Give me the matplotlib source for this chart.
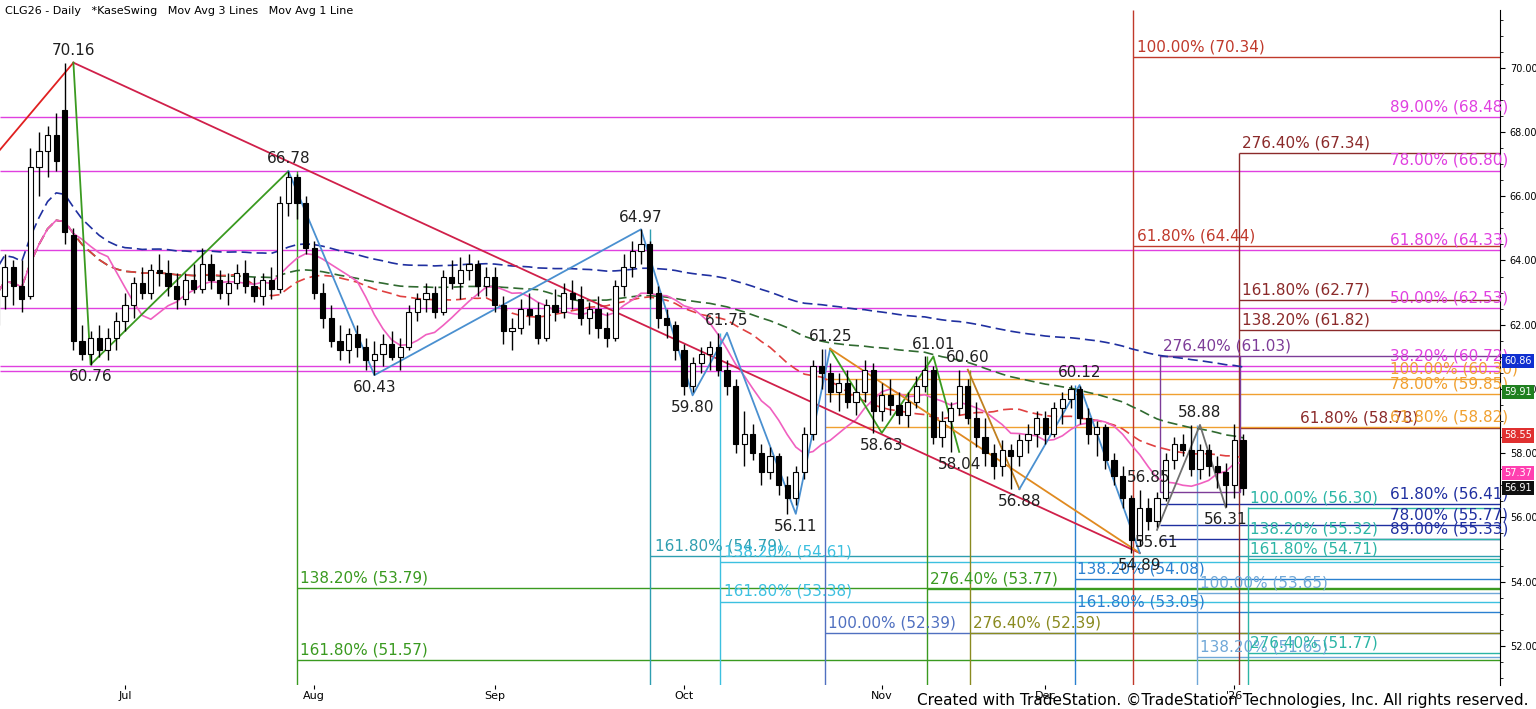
import matplotlib
matplotlib.use("Agg")
import matplotlib.pyplot as plt
import pandas as pd
import numpy as np

# ---- data (O,H,L,C per session, Jun 9 2025 .. Jan 6 2026) ----
opens  = []; highs = []; lows = []; closes = []
ohlc = [
 (62.0,63.3,61.5,62.9),(62.9,64.2,62.5,63.8),(63.8,64.0,62.6,63.2),(63.2,64.0,62.4,62.8),(62.9,67.5,62.8,66.9),
 (66.9,68.0,66.0,67.4),(67.4,68.2,66.6,67.9),(67.9,68.6,66.8,67.1),(68.7,70.16,64.5,64.9),(64.8,65.0,61.2,61.5),
 (61.5,62.0,60.9,61.1),(61.1,61.8,60.76,61.6),(61.6,62.0,61.0,61.2),(61.2,61.9,60.9,61.6),(61.6,62.4,61.2,62.1),
 # Jul
 (62.1,63.0,61.8,62.6),(62.6,63.5,62.2,63.3),(63.3,63.8,62.8,63.0),(63.0,63.9,62.8,63.7),(63.7,64.2,63.2,63.6),
 (63.6,64.0,62.9,63.2),(63.2,63.6,62.5,62.8),(62.8,63.6,62.6,63.4),(63.4,63.9,63.0,63.1),(63.1,64.4,63.0,63.9),
 (63.9,64.2,63.1,63.4),(63.4,63.7,62.8,63.0),(63.0,63.6,62.6,63.3),(63.3,63.9,63.1,63.6),(63.6,64.0,63.0,63.2),
 (63.2,63.5,62.7,62.9),(62.9,63.6,62.6,63.4),(63.4,63.8,62.8,63.1),(63.1,66.0,63.0,65.8),(65.8,66.78,65.4,66.6),
 (66.6,66.7,65.3,65.8),(65.8,66.0,64.2,64.4),
 # Aug
 (64.4,64.6,62.8,63.0),(63.0,63.3,61.9,62.2),(62.2,62.6,61.3,61.5),(61.5,62.0,60.9,61.2),(61.2,61.9,60.8,61.7),
 (61.7,62.0,61.0,61.3),(61.3,61.6,60.6,60.9),(60.9,61.5,60.43,61.1),(61.1,61.7,60.7,61.4),(61.4,61.8,60.9,61.0),
 (61.0,61.6,60.6,61.3),(61.3,62.6,61.2,62.4),(62.4,63.0,62.1,62.8),(62.8,63.3,62.4,63.0),(63.0,63.2,62.2,62.4),
 (62.4,63.7,62.3,63.5),(63.5,64.0,63.1,63.3),(63.3,64.1,62.8,63.7),(63.7,64.2,63.4,63.9),(63.9,64.0,62.9,63.2),
 (63.2,63.8,62.9,63.5),
 # Sep
 (63.5,63.8,62.4,62.6),(62.6,62.9,61.4,61.8),(61.8,62.2,61.2,61.9),(61.9,62.8,61.7,62.5),(62.5,63.0,62.0,62.3),
 (62.3,62.7,61.4,61.6),(61.6,62.8,61.5,62.6),(62.6,63.1,62.1,62.4),(62.4,63.3,62.2,63.0),(63.0,63.4,62.5,62.8),
 (62.8,63.2,62.0,62.2),(62.2,62.7,61.7,62.5),(62.5,62.9,61.6,61.9),(61.9,62.4,61.3,61.6),(61.6,63.4,61.5,63.2),
 (63.2,64.2,62.9,63.8),(63.8,64.6,63.5,64.3),(64.3,64.97,63.9,64.5),(64.5,64.6,62.8,63.0),(63.0,63.2,61.9,62.2),
 (62.2,62.5,61.6,62.0),
 # Oct
 (62.0,62.1,60.9,61.2),(61.2,61.4,59.8,60.1),(60.1,61.0,59.9,60.8),(60.8,61.3,60.5,61.1),(61.1,61.5,60.6,61.3),
 (61.3,61.75,60.4,60.6),(60.6,60.9,59.8,60.1),(60.1,60.3,58.0,58.3),(58.3,59.3,57.6,58.6),(58.6,58.9,57.8,58.0),
 (58.0,58.3,57.0,57.4),(57.4,58.2,57.2,57.9),(57.9,58.0,56.7,57.0),(57.0,57.3,56.11,56.6),(56.6,57.6,56.4,57.4),
 (57.4,58.8,57.2,58.6),(58.6,60.9,58.4,60.7),(60.7,61.25,60.0,60.5),(60.5,60.8,59.6,59.9),(59.9,60.5,59.3,60.2),
 (60.2,60.6,59.4,59.6),(59.6,60.3,59.2,59.9),(59.9,60.9,59.6,60.6),
 # Nov
 (60.6,60.8,58.63,59.3),(59.3,60.2,59.0,59.8),(59.8,60.3,59.2,59.5),(59.5,59.9,58.9,59.2),(59.2,59.9,58.8,59.6),
 (59.6,60.4,59.4,60.1),(60.1,61.01,59.9,60.6),(60.6,60.7,58.3,58.5),(58.5,59.3,58.2,59.0),(59.0,59.6,58.04,59.4),
 (59.4,60.60,59.2,60.1),(60.1,60.3,58.9,59.1),(59.1,59.6,58.2,58.5),(58.5,59.1,57.6,58.0),(58.0,58.3,57.2,57.6),
 (57.6,58.4,57.3,58.1),(58.1,58.3,56.88,57.9),(57.9,58.6,57.6,58.4),(58.4,58.9,58.0,58.6),
 # Dec
 (58.6,59.3,58.2,59.1),(59.1,59.3,58.3,58.6),(58.6,59.6,58.5,59.4),(59.4,59.9,58.9,59.7),(59.7,60.12,59.4,60.0),
 (60.0,60.1,58.9,59.1),(59.1,59.4,58.3,58.6),(58.6,59.0,57.9,58.8),(58.8,58.9,57.5,57.8),(57.8,58.0,57.0,57.3),
 (57.3,57.6,56.3,56.6),(56.6,56.7,54.89,55.3),(55.3,56.85,55.1,56.3),(56.3,56.6,55.61,55.9),(55.9,56.8,55.7,56.6),
 (56.6,58.0,56.5,57.8),(57.8,58.5,57.5,58.3),(58.3,58.6,57.9,58.1),(58.1,58.88,57.3,57.5),(57.5,58.3,57.2,58.1),
 (58.1,58.3,57.3,57.6),(57.6,57.9,56.9,57.4),
 # Jan
 (57.4,57.7,56.31,57.0),(57.0,58.9,56.6,58.4),(58.4,58.6,56.7,56.91),
]
for o,h,l,c in ohlc:
    opens.append(o); highs.append(h); lows.append(l); closes.append(c)

month_pos = [15, 37, 58, 80, 103, 122, 144]
month_labels = ['Jul', 'Aug', 'Sep', 'Oct', 'Nov', 'Dec', "'26"]
yticks = [52, 54, 56, 58, 60, 62, 64, 66, 68, 70]

pivots = [(9,70.16,'70.16',True),(11,60.76,'60.76',False),(34,66.78,'66.78',True),(44,60.43,'60.43',False),
          (75,64.97,'64.97',True),(81,59.80,'59.80',False),(85,61.75,'61.75',True),(93,56.11,'56.11',False),
          (97,61.25,'61.25',True),(103,58.63,'58.63',False),(109,61.01,'61.01',True),(112,58.04,'58.04',False),
          (113,60.60,'60.60',True),(119,56.88,'56.88',False),(126,60.12,'60.12',True),(133,54.89,'54.89',False),
          (134,56.85,'56.85',True),(135,55.61,'55.61',False),(140,58.88,'58.88',True),(143,56.31,'56.31',False)]

fibs = [
 (70.34,1133,'#c0392b','100.00% (70.34)',1137),(64.44,1133,'#c0392b','61.80% (64.44)',1137),
 (68.48,0,'#e040e0','89.00% (68.48)',1390),(66.80,0,'#e040e0','78.00% (66.80)',1390),
 (64.33,0,'#e040e0','61.80% (64.33)',1390),(62.53,0,'#e040e0','50.00% (62.53)',1390),
 (60.72,0,'#e040e0','38.20% (60.72)',1390),(60.55,0,'#e040e0','',1390),
 (67.34,1239,'#8b2a2a','276.40% (67.34)',1242),(62.77,1239,'#8b2a2a','161.80% (62.77)',1242),
 (61.82,1239,'#8b2a2a','138.20% (61.82)',1242),(58.78,1239,'#8b2a2a','61.80% (58.78)',1300),
 (61.03,1160,'#7d3c98','276.40% (61.03)',1163),
 (60.30,825,'#f0a030','100.00% (60.30)',1390),(59.85,825,'#f0a030','78.00% (59.85)',1390),
 (58.82,825,'#f0a030','61.80% (58.82)',1390),
 (56.41,1160,'#1f2fa0','61.80% (56.41)',1390),(55.77,1160,'#1f2fa0','78.00% (55.77)',1390),
 (55.33,1160,'#1f2fa0','89.00% (55.33)',1390),
 (56.30,1248,'#2bb5a5','100.00% (56.30)',1250),(55.32,1248,'#2bb5a5','138.20% (55.32)',1250),
 (54.71,1248,'#2bb5a5','161.80% (54.71)',1250),
 (54.79,650,'#2e9eb0','161.80% (54.79)',655),(54.61,720,'#3cc0e0','138.20% (54.61)',724),
 (53.38,720,'#3cc0e0','161.80% (53.38)',724),
 (53.79,297,'#3a9a20','138.20% (53.79)',300),(51.57,297,'#3a9a20','161.80% (51.57)',300),
 (53.77,927,'#3a9a20','276.40% (53.77)',930),
 (52.39,825,'#5070c0','100.00% (52.39)',828),(52.39,970,'#8a8a20','276.40% (52.39)',973),
 (54.08,1075,'#2a80d0','138.20% (54.08)',1077),(53.05,1075,'#2a80d0','161.80% (53.05)',1077),
 (53.65,1197,'#70a8d8','100.00% (53.65)',1200),(51.65,1197,'#70a8d8','138.20% (51.65)',1200),
 (51.77,1248,'#2bb5a5','276.40% (51.77)',1250),
]
verts = [(297,66.78,'#3a9a20'),(650,64.97,'#2e9eb0'),(720,61.75,'#3cc0e0'),(825,61.25,'#5070c0'),
         (927,61.01,'#3a9a20'),(970,60.60,'#8a8a20'),(1075,60.12,'#2a80d0'),(1133,71.8,'#c0392b'),
         (1197,58.88,'#70a8d8'),(1248,56.31,'#2bb5a5'),(1239,67.34,'#8b2a2a')]

swings = [
 ([0,9],[67.3,70.16],'#e02020'),
 ([9,133],[70.16,54.89],'#d0204a'),
 ([9,11,34],[70.16,60.76,66.78],'#3a9a20'),
 ([34,44,75,81,85,93,97],[66.78,60.43,64.97,59.80,61.75,56.11,61.25],'#4a90d0'),
 ([97,103,109,112],[61.25,58.63,61.01,58.04],'#3a9a20'),
 ([113,119],[60.60,56.88],'#c08020'),
 ([97,133],[61.25,54.89],'#e08a20'),
 ([119,126,133],[56.88,60.12,54.89],'#4a90d0'),
 ([135,140,143],[55.61,58.88,56.31],'#707070'),
]
price_boxes = [(60.86,'#1030d0'),(59.91,'#208020'),(58.55,'#e03030'),(57.37,'#ff40b0'),(56.91,'#101010')]

def px(x):
    return (x - 125) / 8.6 + 15

fig = plt.figure(figsize=(15.36, 7.09), dpi=100)
ax = fig.add_axes([0, 24/709, 1500/1536, 675/709])
ax.set_xlim(px(0), px(1500)); ax.set_ylim(50.78, 71.8)
n = len(closes); idx = np.arange(n)
cs = pd.Series(closes)

for p, x0, col, lab, lx in fibs:
    ax.hlines(p, px(x0), px(1500), color=col, lw=1.0, zorder=1)
    if lab:
        ax.text(px(lx), p + 0.08, lab, color=col, fontsize=11, va='bottom', ha='left', zorder=6)
for x, top, col in verts:
    ax.vlines(px(x), 50.78, top, color=col, lw=1.0, zorder=1)
ax.add_patch(plt.Rectangle((px(1160), 56.8), px(1240)-px(1160), 61.03-56.8, fill=False, ec='#7d3c98', lw=1))

ax.plot(idx, cs.ewm(span=150).mean()+0.8, color='#2030a0', ls=(0,(6,3)), lw=1.2, zorder=2)
ax.plot(idx, cs.rolling(60, min_periods=1).mean(), color='#306a30', ls=(0,(6,3)), lw=1.2, zorder=2)
ax.plot(idx, cs.rolling(25, min_periods=1).mean(), color='#e04040', ls=(0,(6,3)), lw=1.2, zorder=2)
ax.plot(idx, cs.rolling(10, min_periods=1).mean(), color='#f060c0', lw=1.2, zorder=2)

for xs, ys, col in swings:
    ax.plot(xs, ys, color=col, lw=1.3, zorder=3)

for i in range(n):
    o, h, l, c = opens[i], highs[i], lows[i], closes[i]
    ax.vlines(i, l, h, color='black', lw=1, zorder=4)
    fc = 'white' if c >= o else 'black'
    ax.add_patch(plt.Rectangle((i-0.3, min(o, c)), 0.6, max(abs(c-o), 0.03), fc=fc, ec='black', lw=0.8, zorder=5))

for i, p, lab, above in pivots:
    ax.text(i, p + (0.15 if above else -0.15), lab, ha='center', va='bottom' if above else 'top',
            fontsize=11, color='#202020', zorder=6)

ax.yaxis.tick_right()
ax.set_yticks(yticks)
ax.set_yticklabels([f'{v:.2f}' for v in yticks], fontsize=7)
ax.set_yticks(np.arange(51, 72, 0.5), minor=True)
ax.set_xticks(month_pos)
ax.set_xticklabels(month_labels, fontsize=8)
ax.tick_params(axis='x', length=3, pad=1)
for s in ['top', 'left', 'bottom']:
    ax.spines[s].set_visible(False)
for p, col in price_boxes:
    ax.text(1.003, p, f'{p:.2f}', transform=ax.get_yaxis_transform(), fontsize=7, color='white',
            va='center', ha='left', bbox=dict(fc=col, ec='none', pad=1.5), zorder=7)
fig.text(0.003, 0.992, 'CLG26 - Daily   *KaseSwing   Mov Avg 3 Lines   Mov Avg 1 Line', fontsize=8, va='top')
fig.text(0.995, 0.001, 'Created with TradeStation. \u00a9TradeStation Technologies, Inc. All rights reserved.',
         fontsize=11, ha='right', va='bottom')
fig.savefig('out.png', dpi=100)
